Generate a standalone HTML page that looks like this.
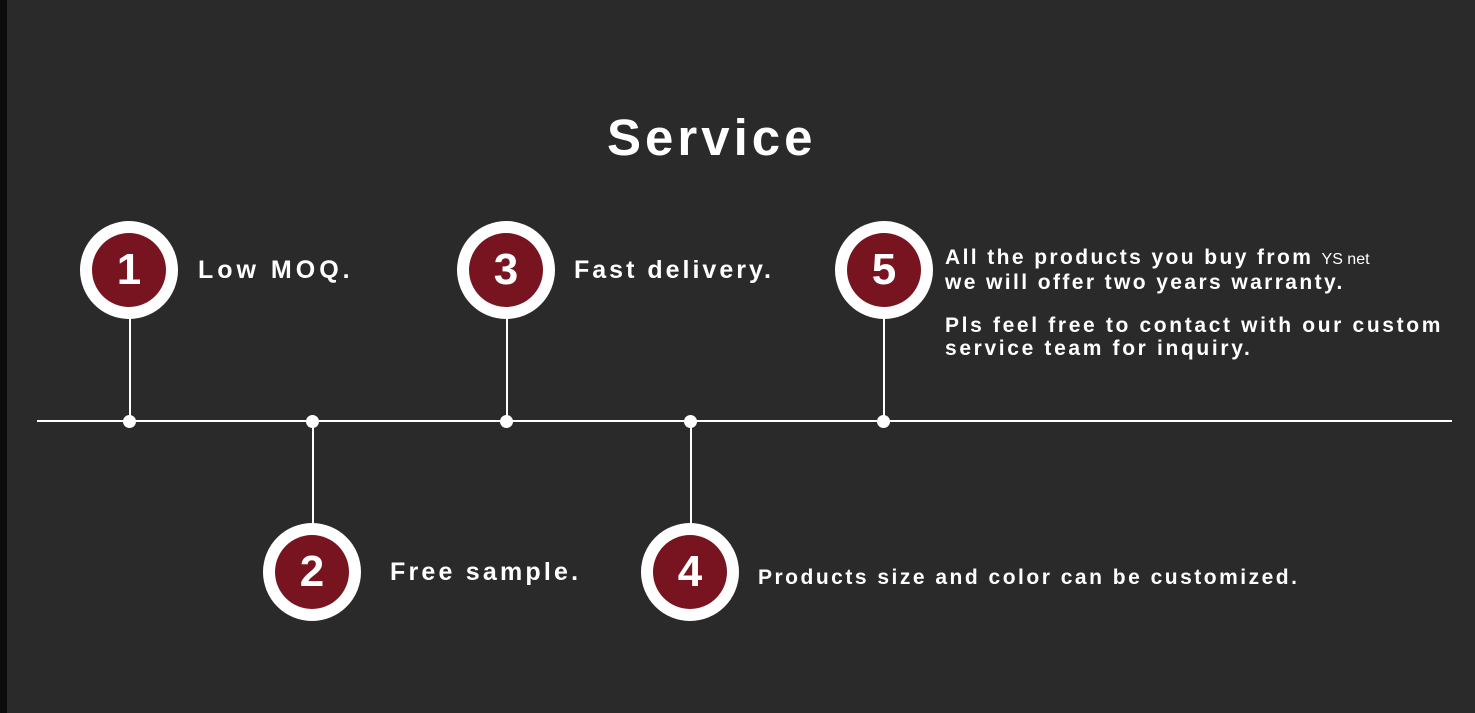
<!DOCTYPE html>
<html><head><style>
body{margin:0;width:1475px;height:713px;background:#2a2a2a;position:relative;overflow:hidden;font-family:"Liberation Sans","DejaVu Sans",sans-serif;color:#fff}
.strip{position:absolute;left:0;top:0;width:7px;height:713px;background:#0c0c0c}
.t{position:absolute;white-space:nowrap;letter-spacing:3px;font-weight:bold}
.c{position:absolute;width:98px;height:98px;border-radius:50%;background:#fff}
.c div{position:absolute;left:12px;top:12px;width:74px;height:74px;border-radius:50%;background:#781420;color:#fff;font-size:44px;font-weight:bold;text-align:center;line-height:74px}
.v{position:absolute;width:2px;background:#fff}
.d{position:absolute;width:13px;height:13px;border-radius:50%;background:#fff}
</style></head><body>
<div class="strip"></div>
<div class="t" style="left:607px;top:108px;font-size:51px;letter-spacing:4px">Service</div>
<div style="position:absolute;left:37px;top:420px;width:1415px;height:2px;background:#fff"></div>

<div class="v" style="left:129px;top:300px;height:120px"></div>
<div class="v" style="left:506px;top:300px;height:120px"></div>
<div class="v" style="left:883px;top:300px;height:120px"></div>
<div class="v" style="left:312px;top:421px;height:120px"></div>
<div class="v" style="left:690px;top:421px;height:120px"></div>

<div class="d" style="left:123px;top:415px"></div>
<div class="d" style="left:306px;top:415px"></div>
<div class="d" style="left:500px;top:415px"></div>
<div class="d" style="left:684px;top:415px"></div>
<div class="d" style="left:877px;top:415px"></div>

<div class="c" style="left:80px;top:221px"><div>1</div></div>
<div class="c" style="left:457px;top:221px"><div>3</div></div>
<div class="c" style="left:835px;top:221px"><div>5</div></div>
<div class="c" style="left:263px;top:523px"><div>2</div></div>
<div class="c" style="left:641px;top:523px"><div>4</div></div>

<div class="t" style="left:198px;top:256px;font-size:25px;letter-spacing:4px">Low MOQ.</div>
<div class="t" style="left:574px;top:256px;font-size:25px">Fast delivery.</div>
<div class="t" style="left:390px;top:558px;font-size:25px;letter-spacing:3.2px">Free sample.</div>
<div class="t" style="left:758px;top:566px;font-size:21px;letter-spacing:2.5px">Products size and color can be customized.</div>
<div class="t" style="left:945px;top:246px;font-size:21px;line-height:23px;letter-spacing:2.4px">All the products you buy from <span style="font-size:16px;letter-spacing:0;font-weight:normal">YS net</span><br>we will offer two years warranty.</div>
<div class="t" style="left:945px;top:314px;font-size:21px;line-height:23px;letter-spacing:2.65px">Pls feel free to contact with our custom<br>service team for inquiry.</div>
</body></html>
